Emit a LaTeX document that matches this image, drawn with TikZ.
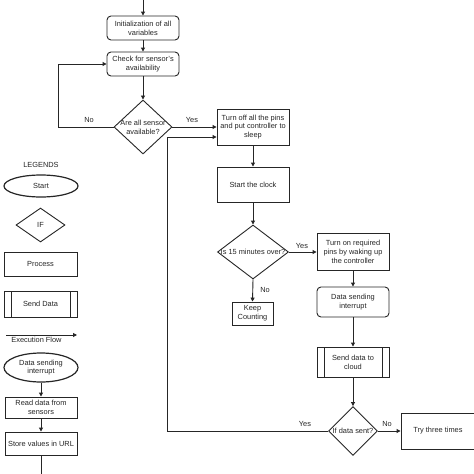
\documentclass[tikz,border=0pt]{standalone}
\usepackage{fontspec}
\setmainfont{Liberation Sans}
\usetikzlibrary{arrows.meta,shapes.geometric}
\definecolor{ln}{HTML}{262626}
\begin{document}
\begin{tikzpicture}[x=1pt,y=-1pt,
  every node/.style={font=\fontsize{7.4}{8.8}\selectfont, text=ln, align=center, inner sep=0pt},
  box/.style={draw=ln, line width=0.9pt, rectangle, minimum width=#1},
  box/.default=72pt,
  rbox/.style={box, rounded corners=4pt},
  sbox/.style={box, path picture={
     \draw[ln, line width=0.9pt] ([xshift=7pt]path picture bounding box.north west) -- ([xshift=7pt]path picture bounding box.south west);
     \draw[ln, line width=0.9pt] ([xshift=-7pt]path picture bounding box.north east) -- ([xshift=-7pt]path picture bounding box.south east);}},
  dia/.style={draw=ln, line width=0.9pt, diamond, shape aspect=1},
  oval/.style={draw=ln, line width=1.2pt, ellipse},
  lab/.style={font=\fontsize{7.4}{8.8}\selectfont, text=ln},
  arr/.style={draw=ln, line width=0.9pt, -{Triangle[length=4pt,width=4pt]}},
  ln/.style={draw=ln, line width=0.9pt}
]
\useasboundingbox (0,0) rectangle (474,474);
\fill[white] (0,0) rectangle (474,474);

% main flow
\coordinate (top) at (143,0);
\node[rbox, minimum height=24pt] (init) at (143,28) {Initialization of all\\variables};
\node[rbox, minimum height=24pt] (check) at (143,64) {Check for sensor's\\availability};
\node[dia, minimum width=58pt, minimum height=54pt] (d1) at (143,127) {};
\node[lab, align=center] (d1t) at (143,127) {Are all sensor\\available?};
\coordinate (nl) at (58,127);

\node[box, minimum height=36pt] (off) at (253,127) {Turn off all the pins\\and put controller to\\sleep};
\node[box, minimum height=35pt] (clock) at (253,184.5) {Start the clock};
\node[dia, minimum width=71pt, minimum height=54pt] (d2) at (253,252) {};
\node[lab] (d2t) at (253,252) {Is 15 minutes over?};
\node[box=41pt, minimum height=23pt] (keep) at (252.5,313.5) {Keep\\Counting};
\node[box, minimum height=37pt] (on) at (353,252) {Turn on required\\pins by waking up\\the controller};
\node[rbox, minimum height=30pt] (dsi) at (353,302) {Data sending\\interrupt};
\node[sbox, minimum height=30pt] (cloud) at (353,362) {Send data to\\cloud};
\node[dia, minimum width=49pt, minimum height=49pt] (d3) at (353,431) {};
\node[lab] (d3t) at (353,431) {If data sent?};
\node[box=84pt, minimum height=36pt] (try) at (443,431) {};
\node[lab] (tryt) at (438,431) {Try three times};
\coordinate (yl) at (167,431);

\draw[arr] (top) -- (init);
\draw[arr] (init) -- (check);
\draw[arr] (check) -- (d1);
\draw[arr] (d1.west) -- (nl) |- (check.west);
\draw[arr] (d1.east) -- (off.west);
\draw[arr] (off) -- (clock);
\draw[arr] (clock) -- (d2);
\draw[arr] (d2.east) -- (on.west);
\draw[arr] (d2.south) -- (keep.north);
\draw[arr] (on) -- (dsi);
\draw[arr] (dsi) -- (cloud);
\draw[arr] (cloud) -- (d3);
\draw[arr] (d3.east) -- (try.west);
\draw[arr] (d3.west) -- (yl) |- ([yshift=-10pt]off.west);

\node[lab] (l1) at (89,120) {No};
\node[lab] (l2) at (192,120) {Yes};
\node[lab] (l3) at (302,246) {Yes};
\node[lab] (l4) at (265,290) {No};
\node[lab] (l5) at (305,424) {Yes};
\node[lab] (l6) at (387,424) {No};

% legend
\node[lab] (leg) at (41,165) {LEGENDS};
\node[oval, minimum width=74pt, minimum height=22pt] (lstart) at (41,186) {Start};
\node[dia, minimum width=49pt, minimum height=34pt] (lif) at (40.5,225) {IF};
\node[box=73pt, minimum height=24pt] (lproc) at (40.5,264) {Process};
\node[sbox, minimum width=73pt, minimum height=26pt] (lsend) at (40.5,304) {Send Data};
\coordinate (ea) at (6,335);
\coordinate (eb) at (77,335);
\draw[arr] (ea) -- (eb);
\node[lab] (lexec) at (36.5,340) {Execution Flow};
\node[oval, minimum width=74pt, minimum height=29pt] (ldsi) at (41,367.5) {Data sending\\interrupt};
\node[box, minimum height=21pt] (lread) at (41,407.5) {Read data from\\sensors};
\node[box, minimum height=23pt] (lstore) at (41,443.5) {Store values in URL};
\coordinate (lend) at (41,476);
\draw[arr] (ldsi) -- (lread);
\draw[arr] (lread) -- (lstore);
\draw[ln] (lstore) -- (lend);
\end{tikzpicture}
\end{document}
